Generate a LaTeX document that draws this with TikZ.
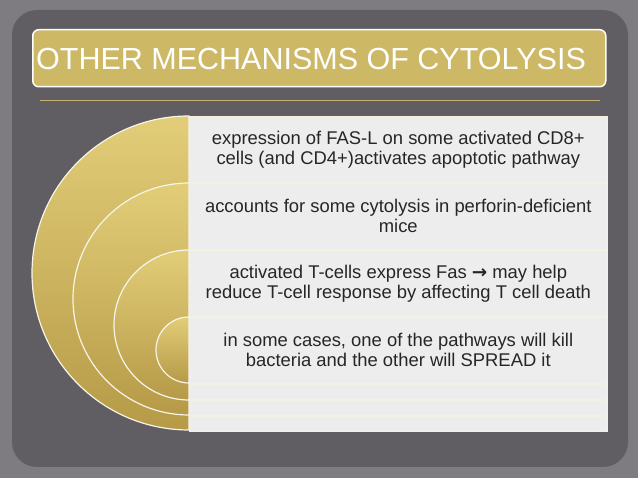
\documentclass[tikz,border=0pt]{standalone}
\usepackage{fontspec}
\setmainfont{Liberation Sans}
\newfontfamily\symfont{DejaVu Sans}
\usetikzlibrary{positioning}
\definecolor{bgout}{HTML}{7E7C81}
\definecolor{panel}{HTML}{605E63}
\definecolor{gold}{HTML}{CDB865}
\definecolor{goldlight}{HTML}{E2CD78}
\definecolor{golddark}{HTML}{B69A47}
\definecolor{rowgrey}{HTML}{EDEDED}
\begin{document}
\begin{tikzpicture}[x=1pt,y=1pt,
    ring/.style={draw=white!85!gold, line width=1.2pt, top color=goldlight, bottom color=golddark},
    rowbox/.style={rectangle, fill=rowgrey, draw=white!80!gold, line width=0.6pt, anchor=north west, minimum width=418pt, inner sep=0pt},
    rowtext/.style={align=center, font=\fontsize{18.4}{20}\selectfont, text=black!85}
]
    % background and panel
    \fill[bgout] (0,0) rectangle (638,478);
    \useasboundingbox (0,0) rectangle (638,478);
    \fill[panel, rounded corners=25pt] (12,11) rectangle (628,468);

    % title
    \node[draw=white, line width=1.5pt, fill=gold, rounded corners=6pt, minimum width=573pt, minimum height=57pt, anchor=north west, inner sep=0pt] (title) at (32,449) {};
    \node[anchor=west, text=white, font=\fontsize{30.5}{32}\selectfont, inner sep=0pt] (ttext) at (36,419) {OTHER MECHANISMS OF CYTOLYSIS};
    \draw[golddark!80!white, line width=0.8pt] (40,378) coordinate (la) -- (600,378) coordinate (lb);

    % half discs
    \draw[ring] (189,362) arc[start angle=90, end angle=270, radius=157] -- cycle;
    \draw[ring] (189,295) arc[start angle=90, end angle=270, radius=116] -- cycle;
    \draw[ring] (189,228) arc[start angle=90, end angle=270, radius=75] -- cycle;
    \draw[ring] (189,161) arc[start angle=90, end angle=270, radius=33] -- cycle;

    % rows
    \node[rowbox, minimum height=66pt] (r1) at (189,362) {};
    \node[rowbox, minimum height=66pt] (r2) at (189,295) {};
    \node[rowbox, minimum height=66pt] (r3) at (189,228) {};
    \node[rowbox, minimum height=66pt] (r4) at (189,161) {};
    \node[rowbox, minimum height=15pt] (r5) at (189,94) {};
    \node[rowbox, minimum height=15pt] (r6) at (189,78) {};
    \node[rowbox, minimum height=15pt] (r7) at (189,62) {};

    \node[rowtext] (t1) at (r1) {expression of FAS-L on some activated CD8+\\cells (and CD4+)activates apoptotic pathway};
    \node[rowtext] (t2) at (r2) {accounts for some cytolysis in perforin-deficient\\mice};
    \node[rowtext] (t3) at (r3) {activated T-cells express Fas {\symfont\bfseries →} may help\\reduce T-cell response by affecting T cell death};
    \node[rowtext] (t4) at (r4) {in some cases, one of the pathways will kill\\bacteria and the other will SPREAD it};
\end{tikzpicture}
\end{document}
